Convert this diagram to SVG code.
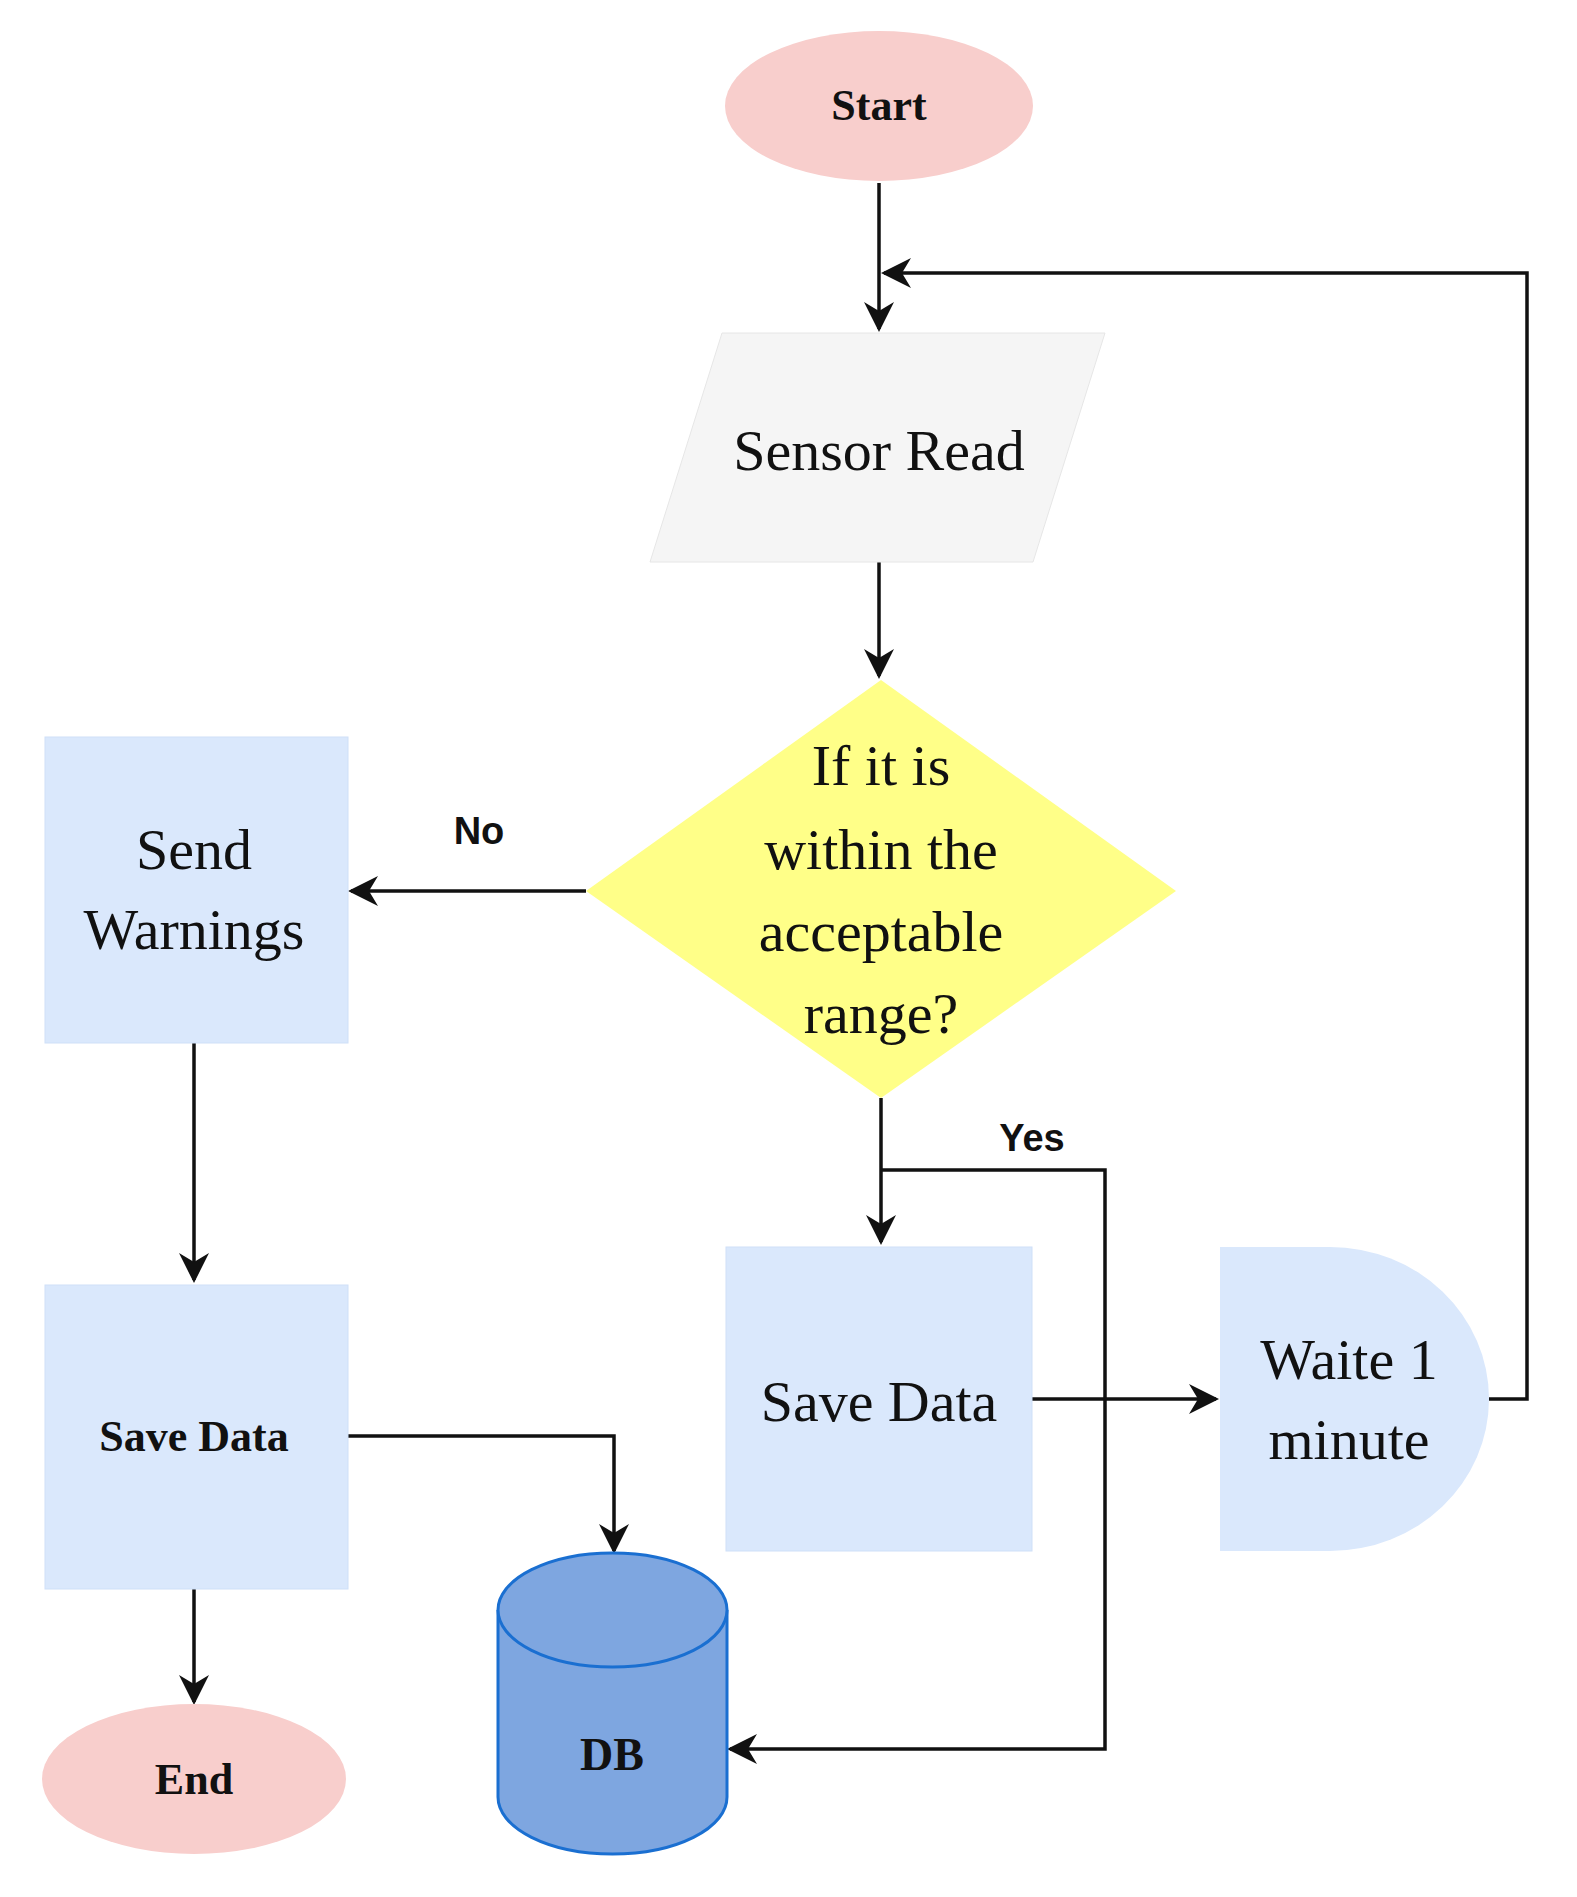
<svg xmlns="http://www.w3.org/2000/svg" width="1577" height="1897" viewBox="0 0 1577 1897">
<style>
.t{font-family:"Liberation Serif","Times New Roman",serif;fill:#111;text-anchor:middle}
.b{font-weight:bold}
.s{font-family:"Liberation Sans",Arial,sans-serif;font-weight:bold;fill:#111;text-anchor:middle;font-size:38px}
.c{fill:none;stroke:#111;stroke-width:3.5}
</style>
<defs><marker id="a" viewBox="0 0 10 10" refX="9" refY="5" markerWidth="9" markerHeight="9" markerUnits="userSpaceOnUse" orient="auto"><path d="M0,0 L10,5 L0,10 L3,5z" fill="#111"/></marker>
<marker id="m" viewBox="0 0 10 10" refX="9" refY="5" markerWidth="30" markerHeight="30" markerUnits="userSpaceOnUse" orient="auto"><path d="M0,0 L10,5 L0,10 L3,5z" fill="#111"/></marker></defs>
<rect width="1577" height="1897" fill="#fff"/>
<g id="connectors">
<path class="c" d="M879,183 V329" marker-end="url(#m)"/>
<path class="c" d="M1489,1399 H1527 V273 H884" marker-end="url(#m)"/>
<path class="c" d="M879,562 V676" marker-end="url(#m)"/>
<path class="c" d="M586,891 H351" marker-end="url(#m)"/>
<path class="c" d="M194,1043 V1280" marker-end="url(#m)"/>
<path class="c" d="M194,1589 V1702" marker-end="url(#m)"/>
<path class="c" d="M348,1436 H614 V1551" marker-end="url(#m)"/>
<path class="c" d="M881,1098 V1242" marker-end="url(#m)"/>
<path class="c" d="M881,1170 H1105 V1749 H730" marker-end="url(#m)"/>
<path class="c" d="M1032,1399 H1216" marker-end="url(#m)"/>
<text class="s" x="479" y="844">No</text>
<text class="s" x="1032" y="1151">Yes</text>
</g>
<g id="start"><ellipse cx="879" cy="106" rx="154" ry="75" fill="#f8cecc"/><text class="t b" x="879" y="120" font-size="44">Start</text></g>
<g id="sensor"><path d="M722,333 H1105 L1033,562 H650 Z" fill="#f5f5f5" stroke="#e6e6e6"/><text class="t" x="879" y="470" font-size="58" fill="#333">Sensor Read</text></g>
<g id="decision"><path d="M881,680 L1176,891 L881,1098 L586,891 Z" fill="#ffff88"/>
<text class="t" x="881" y="785" font-size="58">If it is</text><text class="t" x="881" y="869" font-size="58">within the</text><text class="t" x="881" y="951" font-size="58">acceptable</text><text class="t" x="881" y="1033" font-size="58">range?</text></g>
<g id="warn"><rect x="45" y="737" width="303" height="306" fill="#dae8fc" stroke="#cfe0f8"/><text class="t" x="194" y="869" font-size="58">Send</text><text class="t" x="194" y="949" font-size="58">Warnings</text></g>
<g id="save1"><rect x="45" y="1285" width="303" height="304" fill="#dae8fc" stroke="#cfe0f8"/><text class="t b" x="194" y="1451" font-size="44">Save Data</text></g>
<g id="end"><ellipse cx="194" cy="1779" rx="152" ry="75" fill="#f8cecc"/><text class="t b" x="194" y="1794" font-size="44">End</text></g>
<g id="db"><path d="M498,1610 V1797 A114.5,57 0 0 0 727,1797 V1610" fill="#7ea6e0" stroke="#1a6fd1" stroke-width="3"/><ellipse cx="612.5" cy="1610" rx="114.5" ry="57" fill="#7ea6e0" stroke="#1a6fd1" stroke-width="3"/><text class="t b" x="612" y="1770" font-size="46">DB</text></g>
<g id="save2"><rect x="726" y="1247" width="306" height="304" fill="#dae8fc" stroke="#cfe0f8"/><text class="t" x="879" y="1421" font-size="58">Save Data</text></g>
<g id="wait"><path d="M1220,1247 H1330 A159,152 0 0 1 1330,1551 H1220 Z" fill="#dae8fc"/><text class="t" x="1349" y="1379" font-size="58">Waite 1</text><text class="t" x="1349" y="1459" font-size="58">minute</text></g>
</svg>
